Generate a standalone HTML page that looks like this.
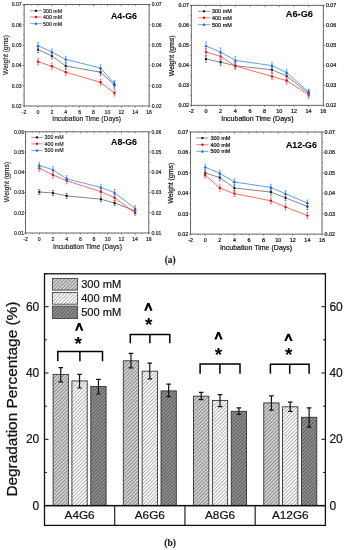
<!DOCTYPE html><html><head><meta charset="utf-8"><style>html,body{margin:0;padding:0;background:#fff;}svg{display:block;will-change:transform;}svg text{font-family:"Liberation Sans", sans-serif;}</style></head><body>
<svg width="345" height="550" viewBox="0 0 345 550">
<rect width="345" height="550" fill="#fff"/>
<defs><filter id="softL" x="0" y="0" width="345" height="268" filterUnits="userSpaceOnUse"><feGaussianBlur stdDeviation="0.35"/></filter><filter id="softR" x="0" y="0" width="345" height="268" filterUnits="userSpaceOnUse"><feGaussianBlur stdDeviation="0.25"/></filter></defs>
<rect width="345" height="268" fill="#fff"/>
<g filter="url(#softL)">
<rect x="24.1" y="4.5" width="125.00" height="101.50" fill="none" stroke="#555" stroke-width="0.9"/>
<line x1="24.10" y1="106.0" x2="24.10" y2="107.6" stroke="#555" stroke-width="0.7"/>
<line x1="24.10" y1="4.5" x2="24.10" y2="6.1" stroke="#555" stroke-width="0.7"/>
<line x1="31.04" y1="106.0" x2="31.04" y2="106.9" stroke="#555" stroke-width="0.7"/>
<line x1="31.04" y1="4.5" x2="31.04" y2="5.4" stroke="#555" stroke-width="0.7"/>
<line x1="37.99" y1="106.0" x2="37.99" y2="107.6" stroke="#555" stroke-width="0.7"/>
<line x1="37.99" y1="4.5" x2="37.99" y2="6.1" stroke="#555" stroke-width="0.7"/>
<line x1="44.93" y1="106.0" x2="44.93" y2="106.9" stroke="#555" stroke-width="0.7"/>
<line x1="44.93" y1="4.5" x2="44.93" y2="5.4" stroke="#555" stroke-width="0.7"/>
<line x1="51.88" y1="106.0" x2="51.88" y2="107.6" stroke="#555" stroke-width="0.7"/>
<line x1="51.88" y1="4.5" x2="51.88" y2="6.1" stroke="#555" stroke-width="0.7"/>
<line x1="58.82" y1="106.0" x2="58.82" y2="106.9" stroke="#555" stroke-width="0.7"/>
<line x1="58.82" y1="4.5" x2="58.82" y2="5.4" stroke="#555" stroke-width="0.7"/>
<line x1="65.77" y1="106.0" x2="65.77" y2="107.6" stroke="#555" stroke-width="0.7"/>
<line x1="65.77" y1="4.5" x2="65.77" y2="6.1" stroke="#555" stroke-width="0.7"/>
<line x1="72.71" y1="106.0" x2="72.71" y2="106.9" stroke="#555" stroke-width="0.7"/>
<line x1="72.71" y1="4.5" x2="72.71" y2="5.4" stroke="#555" stroke-width="0.7"/>
<line x1="79.66" y1="106.0" x2="79.66" y2="107.6" stroke="#555" stroke-width="0.7"/>
<line x1="79.66" y1="4.5" x2="79.66" y2="6.1" stroke="#555" stroke-width="0.7"/>
<line x1="86.60" y1="106.0" x2="86.60" y2="106.9" stroke="#555" stroke-width="0.7"/>
<line x1="86.60" y1="4.5" x2="86.60" y2="5.4" stroke="#555" stroke-width="0.7"/>
<line x1="93.54" y1="106.0" x2="93.54" y2="107.6" stroke="#555" stroke-width="0.7"/>
<line x1="93.54" y1="4.5" x2="93.54" y2="6.1" stroke="#555" stroke-width="0.7"/>
<line x1="100.49" y1="106.0" x2="100.49" y2="106.9" stroke="#555" stroke-width="0.7"/>
<line x1="100.49" y1="4.5" x2="100.49" y2="5.4" stroke="#555" stroke-width="0.7"/>
<line x1="107.43" y1="106.0" x2="107.43" y2="107.6" stroke="#555" stroke-width="0.7"/>
<line x1="107.43" y1="4.5" x2="107.43" y2="6.1" stroke="#555" stroke-width="0.7"/>
<line x1="114.38" y1="106.0" x2="114.38" y2="106.9" stroke="#555" stroke-width="0.7"/>
<line x1="114.38" y1="4.5" x2="114.38" y2="5.4" stroke="#555" stroke-width="0.7"/>
<line x1="121.32" y1="106.0" x2="121.32" y2="107.6" stroke="#555" stroke-width="0.7"/>
<line x1="121.32" y1="4.5" x2="121.32" y2="6.1" stroke="#555" stroke-width="0.7"/>
<line x1="128.27" y1="106.0" x2="128.27" y2="106.9" stroke="#555" stroke-width="0.7"/>
<line x1="128.27" y1="4.5" x2="128.27" y2="5.4" stroke="#555" stroke-width="0.7"/>
<line x1="135.21" y1="106.0" x2="135.21" y2="107.6" stroke="#555" stroke-width="0.7"/>
<line x1="135.21" y1="4.5" x2="135.21" y2="6.1" stroke="#555" stroke-width="0.7"/>
<line x1="142.16" y1="106.0" x2="142.16" y2="106.9" stroke="#555" stroke-width="0.7"/>
<line x1="142.16" y1="4.5" x2="142.16" y2="5.4" stroke="#555" stroke-width="0.7"/>
<line x1="149.10" y1="106.0" x2="149.10" y2="107.6" stroke="#555" stroke-width="0.7"/>
<line x1="149.10" y1="4.5" x2="149.10" y2="6.1" stroke="#555" stroke-width="0.7"/>
<line x1="22.5" y1="4.50" x2="24.1" y2="4.50" stroke="#555" stroke-width="0.7"/>
<line x1="149.1" y1="4.50" x2="150.7" y2="4.50" stroke="#555" stroke-width="0.7"/>
<line x1="23.200000000000003" y1="14.65" x2="24.1" y2="14.65" stroke="#555" stroke-width="0.7"/>
<line x1="149.1" y1="14.65" x2="150.0" y2="14.65" stroke="#555" stroke-width="0.7"/>
<line x1="22.5" y1="24.80" x2="24.1" y2="24.80" stroke="#555" stroke-width="0.7"/>
<line x1="149.1" y1="24.80" x2="150.7" y2="24.80" stroke="#555" stroke-width="0.7"/>
<line x1="23.200000000000003" y1="34.95" x2="24.1" y2="34.95" stroke="#555" stroke-width="0.7"/>
<line x1="149.1" y1="34.95" x2="150.0" y2="34.95" stroke="#555" stroke-width="0.7"/>
<line x1="22.5" y1="45.10" x2="24.1" y2="45.10" stroke="#555" stroke-width="0.7"/>
<line x1="149.1" y1="45.10" x2="150.7" y2="45.10" stroke="#555" stroke-width="0.7"/>
<line x1="23.200000000000003" y1="55.25" x2="24.1" y2="55.25" stroke="#555" stroke-width="0.7"/>
<line x1="149.1" y1="55.25" x2="150.0" y2="55.25" stroke="#555" stroke-width="0.7"/>
<line x1="22.5" y1="65.40" x2="24.1" y2="65.40" stroke="#555" stroke-width="0.7"/>
<line x1="149.1" y1="65.40" x2="150.7" y2="65.40" stroke="#555" stroke-width="0.7"/>
<line x1="23.200000000000003" y1="75.55" x2="24.1" y2="75.55" stroke="#555" stroke-width="0.7"/>
<line x1="149.1" y1="75.55" x2="150.0" y2="75.55" stroke="#555" stroke-width="0.7"/>
<line x1="22.5" y1="85.70" x2="24.1" y2="85.70" stroke="#555" stroke-width="0.7"/>
<line x1="149.1" y1="85.70" x2="150.7" y2="85.70" stroke="#555" stroke-width="0.7"/>
<line x1="23.200000000000003" y1="95.85" x2="24.1" y2="95.85" stroke="#555" stroke-width="0.7"/>
<line x1="149.1" y1="95.85" x2="150.0" y2="95.85" stroke="#555" stroke-width="0.7"/>
<line x1="22.5" y1="106.00" x2="24.1" y2="106.00" stroke="#555" stroke-width="0.7"/>
<line x1="149.1" y1="106.00" x2="150.7" y2="106.00" stroke="#555" stroke-width="0.7"/>
<text x="24.10" y="113.60" text-anchor="middle" font-size="5.20" fill="#1a1a1a" stroke="#1a1a1a" stroke-width="0.15">-2</text>
<text x="37.99" y="113.60" text-anchor="middle" font-size="5.20" fill="#1a1a1a" stroke="#1a1a1a" stroke-width="0.15">0</text>
<text x="51.88" y="113.60" text-anchor="middle" font-size="5.20" fill="#1a1a1a" stroke="#1a1a1a" stroke-width="0.15">2</text>
<text x="65.77" y="113.60" text-anchor="middle" font-size="5.20" fill="#1a1a1a" stroke="#1a1a1a" stroke-width="0.15">4</text>
<text x="79.66" y="113.60" text-anchor="middle" font-size="5.20" fill="#1a1a1a" stroke="#1a1a1a" stroke-width="0.15">6</text>
<text x="93.54" y="113.60" text-anchor="middle" font-size="5.20" fill="#1a1a1a" stroke="#1a1a1a" stroke-width="0.15">8</text>
<text x="107.43" y="113.60" text-anchor="middle" font-size="5.20" fill="#1a1a1a" stroke="#1a1a1a" stroke-width="0.15">10</text>
<text x="121.32" y="113.60" text-anchor="middle" font-size="5.20" fill="#1a1a1a" stroke="#1a1a1a" stroke-width="0.15">12</text>
<text x="135.21" y="113.60" text-anchor="middle" font-size="5.20" fill="#1a1a1a" stroke="#1a1a1a" stroke-width="0.15">14</text>
<text x="149.10" y="113.60" text-anchor="middle" font-size="5.20" fill="#1a1a1a" stroke="#1a1a1a" stroke-width="0.15">16</text>
<text x="21.70" y="6.35" text-anchor="end" font-size="5.10" fill="#1a1a1a" stroke="#1a1a1a" stroke-width="0.15">0.07</text>
<text x="151.70" y="6.35" font-size="5.10" fill="#1a1a1a" stroke="#1a1a1a" stroke-width="0.15">0.07</text>
<text x="21.70" y="26.65" text-anchor="end" font-size="5.10" fill="#1a1a1a" stroke="#1a1a1a" stroke-width="0.15">0.06</text>
<text x="151.70" y="26.65" font-size="5.10" fill="#1a1a1a" stroke="#1a1a1a" stroke-width="0.15">0.06</text>
<text x="21.70" y="46.95" text-anchor="end" font-size="5.10" fill="#1a1a1a" stroke="#1a1a1a" stroke-width="0.15">0.05</text>
<text x="151.70" y="46.95" font-size="5.10" fill="#1a1a1a" stroke="#1a1a1a" stroke-width="0.15">0.05</text>
<text x="21.70" y="67.25" text-anchor="end" font-size="5.10" fill="#1a1a1a" stroke="#1a1a1a" stroke-width="0.15">0.04</text>
<text x="151.70" y="67.25" font-size="5.10" fill="#1a1a1a" stroke="#1a1a1a" stroke-width="0.15">0.04</text>
<text x="21.70" y="87.55" text-anchor="end" font-size="5.10" fill="#1a1a1a" stroke="#1a1a1a" stroke-width="0.15">0.03</text>
<text x="151.70" y="87.55" font-size="5.10" fill="#1a1a1a" stroke="#1a1a1a" stroke-width="0.15">0.03</text>
<text x="21.70" y="107.85" text-anchor="end" font-size="5.10" fill="#1a1a1a" stroke="#1a1a1a" stroke-width="0.15">0.02</text>
<text x="151.70" y="107.85" font-size="5.10" fill="#1a1a1a" stroke="#1a1a1a" stroke-width="0.15">0.02</text>
<text x="52.3" y="121.2" font-size="6.70" fill="#1a1a1a" stroke="#1a1a1a" stroke-width="0.15">Incubation Time (Days)</text>
<text transform="translate(7.5,55.1) rotate(-90)" text-anchor="middle" font-size="6.75" fill="#1a1a1a" stroke="#1a1a1a" stroke-width="0.15">Weight (gms)</text>
<text x="111.0" y="18.8" font-size="8.80" font-weight="bold" fill="#000" stroke="#000" stroke-width="0.075">A4-G6</text>
<line x1="30.0" y1="10.8" x2="41.8" y2="10.8" stroke="#666" stroke-width="0.7"/>
<rect x="34.85" y="9.75" width="2.10" height="2.10" fill="#1a1a1a"/>
<text x="43.10" y="12.70" font-size="5.25" fill="#1a1a1a" stroke="#1a1a1a" stroke-width="0.15">300 mM</text>
<line x1="30.0" y1="17.0" x2="41.8" y2="17.0" stroke="#f44" stroke-width="0.7"/>
<circle cx="35.90" cy="17.00" r="1.20" fill="#e80a0a"/>
<text x="43.10" y="18.90" font-size="5.25" fill="#1a1a1a" stroke="#1a1a1a" stroke-width="0.15">400 mM</text>
<line x1="30.0" y1="23.6" x2="41.8" y2="23.6" stroke="#3a86f0" stroke-width="0.7"/>
<path d="M35.90,22.05 L37.45,24.65 L34.35,24.65Z" fill="#0a5ce8"/>
<text x="43.10" y="25.50" font-size="5.25" fill="#1a1a1a" stroke="#1a1a1a" stroke-width="0.15">500 mM</text>
<polyline points="37.99,49.60 51.88,55.90 65.77,66.00 100.49,72.20 114.38,85.00" fill="none" stroke="#666" stroke-width="0.8"/>
<path d="M37.99,46.50V52.70M36.99,46.50H38.99M36.99,52.70H38.99" stroke="#4a4a4a" stroke-width="0.65" fill="none"/>
<rect x="36.94" y="48.55" width="2.10" height="2.10" fill="#1a1a1a"/>
<path d="M51.88,52.80V59.00M50.88,52.80H52.88M50.88,59.00H52.88" stroke="#4a4a4a" stroke-width="0.65" fill="none"/>
<rect x="50.83" y="54.85" width="2.10" height="2.10" fill="#1a1a1a"/>
<path d="M65.77,62.90V69.10M64.77,62.90H66.77M64.77,69.10H66.77" stroke="#4a4a4a" stroke-width="0.65" fill="none"/>
<rect x="64.72" y="64.95" width="2.10" height="2.10" fill="#1a1a1a"/>
<path d="M100.49,69.10V75.30M99.49,69.10H101.49M99.49,75.30H101.49" stroke="#4a4a4a" stroke-width="0.65" fill="none"/>
<rect x="99.44" y="71.15" width="2.10" height="2.10" fill="#1a1a1a"/>
<path d="M114.38,81.90V88.10M113.38,81.90H115.38M113.38,88.10H115.38" stroke="#4a4a4a" stroke-width="0.65" fill="none"/>
<rect x="113.33" y="83.95" width="2.10" height="2.10" fill="#1a1a1a"/>
<polyline points="37.99,61.70 51.88,66.30 65.77,72.20 100.49,82.30 114.38,93.00" fill="none" stroke="#f44" stroke-width="0.8"/>
<path d="M37.99,58.60V64.80M36.99,58.60H38.99M36.99,64.80H38.99" stroke="#f44" stroke-width="0.65" fill="none"/>
<circle cx="37.99" cy="61.70" r="1.20" fill="#e80a0a"/>
<path d="M51.88,63.20V69.40M50.88,63.20H52.88M50.88,69.40H52.88" stroke="#f44" stroke-width="0.65" fill="none"/>
<circle cx="51.88" cy="66.30" r="1.20" fill="#e80a0a"/>
<path d="M65.77,69.10V75.30M64.77,69.10H66.77M64.77,75.30H66.77" stroke="#f44" stroke-width="0.65" fill="none"/>
<circle cx="65.77" cy="72.20" r="1.20" fill="#e80a0a"/>
<path d="M100.49,79.20V85.40M99.49,79.20H101.49M99.49,85.40H101.49" stroke="#f44" stroke-width="0.65" fill="none"/>
<circle cx="100.49" cy="82.30" r="1.20" fill="#e80a0a"/>
<path d="M114.38,89.90V96.10M113.38,89.90H115.38M113.38,96.10H115.38" stroke="#f44" stroke-width="0.65" fill="none"/>
<circle cx="114.38" cy="93.00" r="1.20" fill="#e80a0a"/>
<polyline points="37.99,45.70 51.88,52.00 65.77,59.40 100.49,68.00 114.38,83.60" fill="none" stroke="#3a86f0" stroke-width="0.8"/>
<path d="M37.99,42.60V48.80M36.99,42.60H38.99M36.99,48.80H38.99" stroke="#3a86f0" stroke-width="0.65" fill="none"/>
<path d="M37.99,44.15 L39.54,46.75 L36.44,46.75Z" fill="#0a5ce8"/>
<path d="M51.88,48.90V55.10M50.88,48.90H52.88M50.88,55.10H52.88" stroke="#3a86f0" stroke-width="0.65" fill="none"/>
<path d="M51.88,50.45 L53.43,53.05 L50.33,53.05Z" fill="#0a5ce8"/>
<path d="M65.77,56.30V62.50M64.77,56.30H66.77M64.77,62.50H66.77" stroke="#3a86f0" stroke-width="0.65" fill="none"/>
<path d="M65.77,57.85 L67.32,60.45 L64.22,60.45Z" fill="#0a5ce8"/>
<path d="M100.49,64.90V71.10M99.49,64.90H101.49M99.49,71.10H101.49" stroke="#3a86f0" stroke-width="0.65" fill="none"/>
<path d="M100.49,66.45 L102.04,69.05 L98.94,69.05Z" fill="#0a5ce8"/>
<path d="M114.38,80.50V86.70M113.38,80.50H115.38M113.38,86.70H115.38" stroke="#3a86f0" stroke-width="0.65" fill="none"/>
<path d="M114.38,82.05 L115.93,84.65 L112.83,84.65Z" fill="#0a5ce8"/>
<rect x="25.6" y="131.8" width="123.20" height="101.20" fill="none" stroke="#555" stroke-width="0.9"/>
<line x1="25.60" y1="233.0" x2="25.60" y2="234.6" stroke="#555" stroke-width="0.7"/>
<line x1="25.60" y1="131.8" x2="25.60" y2="133.4" stroke="#555" stroke-width="0.7"/>
<line x1="32.44" y1="233.0" x2="32.44" y2="233.9" stroke="#555" stroke-width="0.7"/>
<line x1="32.44" y1="131.8" x2="32.44" y2="132.70000000000002" stroke="#555" stroke-width="0.7"/>
<line x1="39.29" y1="233.0" x2="39.29" y2="234.6" stroke="#555" stroke-width="0.7"/>
<line x1="39.29" y1="131.8" x2="39.29" y2="133.4" stroke="#555" stroke-width="0.7"/>
<line x1="46.13" y1="233.0" x2="46.13" y2="233.9" stroke="#555" stroke-width="0.7"/>
<line x1="46.13" y1="131.8" x2="46.13" y2="132.70000000000002" stroke="#555" stroke-width="0.7"/>
<line x1="52.98" y1="233.0" x2="52.98" y2="234.6" stroke="#555" stroke-width="0.7"/>
<line x1="52.98" y1="131.8" x2="52.98" y2="133.4" stroke="#555" stroke-width="0.7"/>
<line x1="59.82" y1="233.0" x2="59.82" y2="233.9" stroke="#555" stroke-width="0.7"/>
<line x1="59.82" y1="131.8" x2="59.82" y2="132.70000000000002" stroke="#555" stroke-width="0.7"/>
<line x1="66.67" y1="233.0" x2="66.67" y2="234.6" stroke="#555" stroke-width="0.7"/>
<line x1="66.67" y1="131.8" x2="66.67" y2="133.4" stroke="#555" stroke-width="0.7"/>
<line x1="73.51" y1="233.0" x2="73.51" y2="233.9" stroke="#555" stroke-width="0.7"/>
<line x1="73.51" y1="131.8" x2="73.51" y2="132.70000000000002" stroke="#555" stroke-width="0.7"/>
<line x1="80.36" y1="233.0" x2="80.36" y2="234.6" stroke="#555" stroke-width="0.7"/>
<line x1="80.36" y1="131.8" x2="80.36" y2="133.4" stroke="#555" stroke-width="0.7"/>
<line x1="87.20" y1="233.0" x2="87.20" y2="233.9" stroke="#555" stroke-width="0.7"/>
<line x1="87.20" y1="131.8" x2="87.20" y2="132.70000000000002" stroke="#555" stroke-width="0.7"/>
<line x1="94.04" y1="233.0" x2="94.04" y2="234.6" stroke="#555" stroke-width="0.7"/>
<line x1="94.04" y1="131.8" x2="94.04" y2="133.4" stroke="#555" stroke-width="0.7"/>
<line x1="100.89" y1="233.0" x2="100.89" y2="233.9" stroke="#555" stroke-width="0.7"/>
<line x1="100.89" y1="131.8" x2="100.89" y2="132.70000000000002" stroke="#555" stroke-width="0.7"/>
<line x1="107.73" y1="233.0" x2="107.73" y2="234.6" stroke="#555" stroke-width="0.7"/>
<line x1="107.73" y1="131.8" x2="107.73" y2="133.4" stroke="#555" stroke-width="0.7"/>
<line x1="114.58" y1="233.0" x2="114.58" y2="233.9" stroke="#555" stroke-width="0.7"/>
<line x1="114.58" y1="131.8" x2="114.58" y2="132.70000000000002" stroke="#555" stroke-width="0.7"/>
<line x1="121.42" y1="233.0" x2="121.42" y2="234.6" stroke="#555" stroke-width="0.7"/>
<line x1="121.42" y1="131.8" x2="121.42" y2="133.4" stroke="#555" stroke-width="0.7"/>
<line x1="128.27" y1="233.0" x2="128.27" y2="233.9" stroke="#555" stroke-width="0.7"/>
<line x1="128.27" y1="131.8" x2="128.27" y2="132.70000000000002" stroke="#555" stroke-width="0.7"/>
<line x1="135.11" y1="233.0" x2="135.11" y2="234.6" stroke="#555" stroke-width="0.7"/>
<line x1="135.11" y1="131.8" x2="135.11" y2="133.4" stroke="#555" stroke-width="0.7"/>
<line x1="141.96" y1="233.0" x2="141.96" y2="233.9" stroke="#555" stroke-width="0.7"/>
<line x1="141.96" y1="131.8" x2="141.96" y2="132.70000000000002" stroke="#555" stroke-width="0.7"/>
<line x1="148.80" y1="233.0" x2="148.80" y2="234.6" stroke="#555" stroke-width="0.7"/>
<line x1="148.80" y1="131.8" x2="148.80" y2="133.4" stroke="#555" stroke-width="0.7"/>
<line x1="24.0" y1="131.80" x2="25.6" y2="131.80" stroke="#555" stroke-width="0.7"/>
<line x1="148.8" y1="131.80" x2="150.4" y2="131.80" stroke="#555" stroke-width="0.7"/>
<line x1="24.700000000000003" y1="141.92" x2="25.6" y2="141.92" stroke="#555" stroke-width="0.7"/>
<line x1="148.8" y1="141.92" x2="149.70000000000002" y2="141.92" stroke="#555" stroke-width="0.7"/>
<line x1="24.0" y1="152.04" x2="25.6" y2="152.04" stroke="#555" stroke-width="0.7"/>
<line x1="148.8" y1="152.04" x2="150.4" y2="152.04" stroke="#555" stroke-width="0.7"/>
<line x1="24.700000000000003" y1="162.16" x2="25.6" y2="162.16" stroke="#555" stroke-width="0.7"/>
<line x1="148.8" y1="162.16" x2="149.70000000000002" y2="162.16" stroke="#555" stroke-width="0.7"/>
<line x1="24.0" y1="172.28" x2="25.6" y2="172.28" stroke="#555" stroke-width="0.7"/>
<line x1="148.8" y1="172.28" x2="150.4" y2="172.28" stroke="#555" stroke-width="0.7"/>
<line x1="24.700000000000003" y1="182.40" x2="25.6" y2="182.40" stroke="#555" stroke-width="0.7"/>
<line x1="148.8" y1="182.40" x2="149.70000000000002" y2="182.40" stroke="#555" stroke-width="0.7"/>
<line x1="24.0" y1="192.52" x2="25.6" y2="192.52" stroke="#555" stroke-width="0.7"/>
<line x1="148.8" y1="192.52" x2="150.4" y2="192.52" stroke="#555" stroke-width="0.7"/>
<line x1="24.700000000000003" y1="202.64" x2="25.6" y2="202.64" stroke="#555" stroke-width="0.7"/>
<line x1="148.8" y1="202.64" x2="149.70000000000002" y2="202.64" stroke="#555" stroke-width="0.7"/>
<line x1="24.0" y1="212.76" x2="25.6" y2="212.76" stroke="#555" stroke-width="0.7"/>
<line x1="148.8" y1="212.76" x2="150.4" y2="212.76" stroke="#555" stroke-width="0.7"/>
<line x1="24.700000000000003" y1="222.88" x2="25.6" y2="222.88" stroke="#555" stroke-width="0.7"/>
<line x1="148.8" y1="222.88" x2="149.70000000000002" y2="222.88" stroke="#555" stroke-width="0.7"/>
<line x1="24.0" y1="233.00" x2="25.6" y2="233.00" stroke="#555" stroke-width="0.7"/>
<line x1="148.8" y1="233.00" x2="150.4" y2="233.00" stroke="#555" stroke-width="0.7"/>
<text x="25.60" y="240.60" text-anchor="middle" font-size="5.20" fill="#1a1a1a" stroke="#1a1a1a" stroke-width="0.15">-2</text>
<text x="39.29" y="240.60" text-anchor="middle" font-size="5.20" fill="#1a1a1a" stroke="#1a1a1a" stroke-width="0.15">0</text>
<text x="52.98" y="240.60" text-anchor="middle" font-size="5.20" fill="#1a1a1a" stroke="#1a1a1a" stroke-width="0.15">2</text>
<text x="66.67" y="240.60" text-anchor="middle" font-size="5.20" fill="#1a1a1a" stroke="#1a1a1a" stroke-width="0.15">4</text>
<text x="80.36" y="240.60" text-anchor="middle" font-size="5.20" fill="#1a1a1a" stroke="#1a1a1a" stroke-width="0.15">6</text>
<text x="94.04" y="240.60" text-anchor="middle" font-size="5.20" fill="#1a1a1a" stroke="#1a1a1a" stroke-width="0.15">8</text>
<text x="107.73" y="240.60" text-anchor="middle" font-size="5.20" fill="#1a1a1a" stroke="#1a1a1a" stroke-width="0.15">10</text>
<text x="121.42" y="240.60" text-anchor="middle" font-size="5.20" fill="#1a1a1a" stroke="#1a1a1a" stroke-width="0.15">12</text>
<text x="135.11" y="240.60" text-anchor="middle" font-size="5.20" fill="#1a1a1a" stroke="#1a1a1a" stroke-width="0.15">14</text>
<text x="148.80" y="240.60" text-anchor="middle" font-size="5.20" fill="#1a1a1a" stroke="#1a1a1a" stroke-width="0.15">16</text>
<text x="24.00" y="133.65" text-anchor="end" font-size="5.10" fill="#1a1a1a" stroke="#1a1a1a" stroke-width="0.15">0.06</text>
<text x="151.40" y="133.65" font-size="5.10" fill="#1a1a1a" stroke="#1a1a1a" stroke-width="0.15">0.06</text>
<text x="24.00" y="153.89" text-anchor="end" font-size="5.10" fill="#1a1a1a" stroke="#1a1a1a" stroke-width="0.15">0.05</text>
<text x="151.40" y="153.89" font-size="5.10" fill="#1a1a1a" stroke="#1a1a1a" stroke-width="0.15">0.05</text>
<text x="24.00" y="174.13" text-anchor="end" font-size="5.10" fill="#1a1a1a" stroke="#1a1a1a" stroke-width="0.15">0.04</text>
<text x="151.40" y="174.13" font-size="5.10" fill="#1a1a1a" stroke="#1a1a1a" stroke-width="0.15">0.04</text>
<text x="24.00" y="194.37" text-anchor="end" font-size="5.10" fill="#1a1a1a" stroke="#1a1a1a" stroke-width="0.15">0.03</text>
<text x="151.40" y="194.37" font-size="5.10" fill="#1a1a1a" stroke="#1a1a1a" stroke-width="0.15">0.03</text>
<text x="24.00" y="214.61" text-anchor="end" font-size="5.10" fill="#1a1a1a" stroke="#1a1a1a" stroke-width="0.15">0.02</text>
<text x="151.40" y="214.61" font-size="5.10" fill="#1a1a1a" stroke="#1a1a1a" stroke-width="0.15">0.02</text>
<text x="24.00" y="234.85" text-anchor="end" font-size="5.10" fill="#1a1a1a" stroke="#1a1a1a" stroke-width="0.15">0.01</text>
<text x="151.40" y="234.85" font-size="5.10" fill="#1a1a1a" stroke="#1a1a1a" stroke-width="0.15">0.01</text>
<text x="53.1" y="248.9" font-size="6.70" fill="#1a1a1a" stroke="#1a1a1a" stroke-width="0.15">Incubation Time (Days)</text>
<text transform="translate(9.0,182.0) rotate(-90)" text-anchor="middle" font-size="6.81" fill="#1a1a1a" stroke="#1a1a1a" stroke-width="0.15">Weight (gms)</text>
<text x="111.1" y="145.4" font-size="8.80" font-weight="bold" fill="#000" stroke="#000" stroke-width="0.075">A8-G6</text>
<line x1="31.3" y1="137.4" x2="42.6" y2="137.4" stroke="#666" stroke-width="0.7"/>
<rect x="35.90" y="136.35" width="2.10" height="2.10" fill="#1a1a1a"/>
<text x="44.60" y="139.30" font-size="5.25" fill="#1a1a1a" stroke="#1a1a1a" stroke-width="0.15">300 mM</text>
<line x1="31.3" y1="143.8" x2="42.6" y2="143.8" stroke="#f44" stroke-width="0.7"/>
<circle cx="36.95" cy="143.80" r="1.20" fill="#e80a0a"/>
<text x="44.60" y="145.70" font-size="5.25" fill="#1a1a1a" stroke="#1a1a1a" stroke-width="0.15">400 mM</text>
<line x1="31.3" y1="150.4" x2="42.6" y2="150.4" stroke="#3a86f0" stroke-width="0.7"/>
<path d="M36.95,148.85 L38.50,151.45 L35.40,151.45Z" fill="#0a5ce8"/>
<text x="44.60" y="152.30" font-size="5.25" fill="#1a1a1a" stroke="#1a1a1a" stroke-width="0.15">500 mM</text>
<polyline points="39.29,192.00 52.98,193.00 66.67,195.90 100.89,199.20 114.58,203.00 135.11,210.90" fill="none" stroke="#666" stroke-width="0.8"/>
<path d="M39.29,189.50V194.50M38.29,189.50H40.29M38.29,194.50H40.29" stroke="#4a4a4a" stroke-width="0.65" fill="none"/>
<rect x="38.24" y="190.95" width="2.10" height="2.10" fill="#1a1a1a"/>
<path d="M52.98,190.50V195.50M51.98,190.50H53.98M51.98,195.50H53.98" stroke="#4a4a4a" stroke-width="0.65" fill="none"/>
<rect x="51.93" y="191.95" width="2.10" height="2.10" fill="#1a1a1a"/>
<path d="M66.67,193.40V198.40M65.67,193.40H67.67M65.67,198.40H67.67" stroke="#4a4a4a" stroke-width="0.65" fill="none"/>
<rect x="65.62" y="194.85" width="2.10" height="2.10" fill="#1a1a1a"/>
<path d="M100.89,196.70V201.70M99.89,196.70H101.89M99.89,201.70H101.89" stroke="#4a4a4a" stroke-width="0.65" fill="none"/>
<rect x="99.84" y="198.15" width="2.10" height="2.10" fill="#1a1a1a"/>
<path d="M114.58,200.50V205.50M113.58,200.50H115.58M113.58,205.50H115.58" stroke="#4a4a4a" stroke-width="0.65" fill="none"/>
<rect x="113.53" y="201.95" width="2.10" height="2.10" fill="#1a1a1a"/>
<path d="M135.11,208.40V213.40M134.11,208.40H136.11M134.11,213.40H136.11" stroke="#4a4a4a" stroke-width="0.65" fill="none"/>
<rect x="134.06" y="209.85" width="2.10" height="2.10" fill="#1a1a1a"/>
<polyline points="39.29,168.30 52.98,175.00 66.67,180.80 100.89,191.70 114.58,197.80 135.11,213.10" fill="none" stroke="#f44" stroke-width="0.8"/>
<path d="M39.29,165.20V171.40M38.29,165.20H40.29M38.29,171.40H40.29" stroke="#f44" stroke-width="0.65" fill="none"/>
<circle cx="39.29" cy="168.30" r="1.20" fill="#e80a0a"/>
<path d="M52.98,171.90V178.10M51.98,171.90H53.98M51.98,178.10H53.98" stroke="#f44" stroke-width="0.65" fill="none"/>
<circle cx="52.98" cy="175.00" r="1.20" fill="#e80a0a"/>
<path d="M66.67,177.70V183.90M65.67,177.70H67.67M65.67,183.90H67.67" stroke="#f44" stroke-width="0.65" fill="none"/>
<circle cx="66.67" cy="180.80" r="1.20" fill="#e80a0a"/>
<path d="M100.89,188.60V194.80M99.89,188.60H101.89M99.89,194.80H101.89" stroke="#f44" stroke-width="0.65" fill="none"/>
<circle cx="100.89" cy="191.70" r="1.20" fill="#e80a0a"/>
<path d="M114.58,194.70V200.90M113.58,194.70H115.58M113.58,200.90H115.58" stroke="#f44" stroke-width="0.65" fill="none"/>
<circle cx="114.58" cy="197.80" r="1.20" fill="#e80a0a"/>
<path d="M135.11,210.90V215.30M134.11,210.90H136.11M134.11,215.30H136.11" stroke="#f44" stroke-width="0.65" fill="none"/>
<circle cx="135.11" cy="213.10" r="1.20" fill="#e80a0a"/>
<polyline points="39.29,165.40 52.98,169.80 66.67,178.90 100.89,187.40 114.58,192.60 135.11,208.60" fill="none" stroke="#3a86f0" stroke-width="0.8"/>
<path d="M39.29,162.30V168.50M38.29,162.30H40.29M38.29,168.50H40.29" stroke="#3a86f0" stroke-width="0.65" fill="none"/>
<path d="M39.29,163.85 L40.84,166.45 L37.74,166.45Z" fill="#0a5ce8"/>
<path d="M52.98,166.70V172.90M51.98,166.70H53.98M51.98,172.90H53.98" stroke="#3a86f0" stroke-width="0.65" fill="none"/>
<path d="M52.98,168.25 L54.53,170.85 L51.43,170.85Z" fill="#0a5ce8"/>
<path d="M66.67,175.80V182.00M65.67,175.80H67.67M65.67,182.00H67.67" stroke="#3a86f0" stroke-width="0.65" fill="none"/>
<path d="M66.67,177.35 L68.22,179.95 L65.12,179.95Z" fill="#0a5ce8"/>
<path d="M100.89,184.30V190.50M99.89,184.30H101.89M99.89,190.50H101.89" stroke="#3a86f0" stroke-width="0.65" fill="none"/>
<path d="M100.89,185.85 L102.44,188.45 L99.34,188.45Z" fill="#0a5ce8"/>
<path d="M114.58,189.50V195.70M113.58,189.50H115.58M113.58,195.70H115.58" stroke="#3a86f0" stroke-width="0.65" fill="none"/>
<path d="M114.58,191.05 L116.13,193.65 L113.03,193.65Z" fill="#0a5ce8"/>
<path d="M135.11,205.50V211.70M134.11,205.50H136.11M134.11,211.70H136.11" stroke="#3a86f0" stroke-width="0.65" fill="none"/>
<path d="M135.11,207.05 L136.66,209.65 L133.56,209.65Z" fill="#0a5ce8"/>
</g>
<g filter="url(#softR)">
<rect x="191.3" y="5.3" width="132.00" height="100.00" fill="none" stroke="#555" stroke-width="0.9"/>
<line x1="191.30" y1="105.3" x2="191.30" y2="106.89999999999999" stroke="#555" stroke-width="0.7"/>
<line x1="191.30" y1="5.3" x2="191.30" y2="6.9" stroke="#555" stroke-width="0.7"/>
<line x1="198.63" y1="105.3" x2="198.63" y2="106.2" stroke="#555" stroke-width="0.7"/>
<line x1="198.63" y1="5.3" x2="198.63" y2="6.2" stroke="#555" stroke-width="0.7"/>
<line x1="205.97" y1="105.3" x2="205.97" y2="106.89999999999999" stroke="#555" stroke-width="0.7"/>
<line x1="205.97" y1="5.3" x2="205.97" y2="6.9" stroke="#555" stroke-width="0.7"/>
<line x1="213.30" y1="105.3" x2="213.30" y2="106.2" stroke="#555" stroke-width="0.7"/>
<line x1="213.30" y1="5.3" x2="213.30" y2="6.2" stroke="#555" stroke-width="0.7"/>
<line x1="220.63" y1="105.3" x2="220.63" y2="106.89999999999999" stroke="#555" stroke-width="0.7"/>
<line x1="220.63" y1="5.3" x2="220.63" y2="6.9" stroke="#555" stroke-width="0.7"/>
<line x1="227.97" y1="105.3" x2="227.97" y2="106.2" stroke="#555" stroke-width="0.7"/>
<line x1="227.97" y1="5.3" x2="227.97" y2="6.2" stroke="#555" stroke-width="0.7"/>
<line x1="235.30" y1="105.3" x2="235.30" y2="106.89999999999999" stroke="#555" stroke-width="0.7"/>
<line x1="235.30" y1="5.3" x2="235.30" y2="6.9" stroke="#555" stroke-width="0.7"/>
<line x1="242.63" y1="105.3" x2="242.63" y2="106.2" stroke="#555" stroke-width="0.7"/>
<line x1="242.63" y1="5.3" x2="242.63" y2="6.2" stroke="#555" stroke-width="0.7"/>
<line x1="249.97" y1="105.3" x2="249.97" y2="106.89999999999999" stroke="#555" stroke-width="0.7"/>
<line x1="249.97" y1="5.3" x2="249.97" y2="6.9" stroke="#555" stroke-width="0.7"/>
<line x1="257.30" y1="105.3" x2="257.30" y2="106.2" stroke="#555" stroke-width="0.7"/>
<line x1="257.30" y1="5.3" x2="257.30" y2="6.2" stroke="#555" stroke-width="0.7"/>
<line x1="264.63" y1="105.3" x2="264.63" y2="106.89999999999999" stroke="#555" stroke-width="0.7"/>
<line x1="264.63" y1="5.3" x2="264.63" y2="6.9" stroke="#555" stroke-width="0.7"/>
<line x1="271.97" y1="105.3" x2="271.97" y2="106.2" stroke="#555" stroke-width="0.7"/>
<line x1="271.97" y1="5.3" x2="271.97" y2="6.2" stroke="#555" stroke-width="0.7"/>
<line x1="279.30" y1="105.3" x2="279.30" y2="106.89999999999999" stroke="#555" stroke-width="0.7"/>
<line x1="279.30" y1="5.3" x2="279.30" y2="6.9" stroke="#555" stroke-width="0.7"/>
<line x1="286.63" y1="105.3" x2="286.63" y2="106.2" stroke="#555" stroke-width="0.7"/>
<line x1="286.63" y1="5.3" x2="286.63" y2="6.2" stroke="#555" stroke-width="0.7"/>
<line x1="293.97" y1="105.3" x2="293.97" y2="106.89999999999999" stroke="#555" stroke-width="0.7"/>
<line x1="293.97" y1="5.3" x2="293.97" y2="6.9" stroke="#555" stroke-width="0.7"/>
<line x1="301.30" y1="105.3" x2="301.30" y2="106.2" stroke="#555" stroke-width="0.7"/>
<line x1="301.30" y1="5.3" x2="301.30" y2="6.2" stroke="#555" stroke-width="0.7"/>
<line x1="308.63" y1="105.3" x2="308.63" y2="106.89999999999999" stroke="#555" stroke-width="0.7"/>
<line x1="308.63" y1="5.3" x2="308.63" y2="6.9" stroke="#555" stroke-width="0.7"/>
<line x1="315.97" y1="105.3" x2="315.97" y2="106.2" stroke="#555" stroke-width="0.7"/>
<line x1="315.97" y1="5.3" x2="315.97" y2="6.2" stroke="#555" stroke-width="0.7"/>
<line x1="323.30" y1="105.3" x2="323.30" y2="106.89999999999999" stroke="#555" stroke-width="0.7"/>
<line x1="323.30" y1="5.3" x2="323.30" y2="6.9" stroke="#555" stroke-width="0.7"/>
<line x1="189.70000000000002" y1="5.30" x2="191.3" y2="5.30" stroke="#555" stroke-width="0.7"/>
<line x1="323.3" y1="5.30" x2="324.90000000000003" y2="5.30" stroke="#555" stroke-width="0.7"/>
<line x1="190.4" y1="15.30" x2="191.3" y2="15.30" stroke="#555" stroke-width="0.7"/>
<line x1="323.3" y1="15.30" x2="324.2" y2="15.30" stroke="#555" stroke-width="0.7"/>
<line x1="189.70000000000002" y1="25.30" x2="191.3" y2="25.30" stroke="#555" stroke-width="0.7"/>
<line x1="323.3" y1="25.30" x2="324.90000000000003" y2="25.30" stroke="#555" stroke-width="0.7"/>
<line x1="190.4" y1="35.30" x2="191.3" y2="35.30" stroke="#555" stroke-width="0.7"/>
<line x1="323.3" y1="35.30" x2="324.2" y2="35.30" stroke="#555" stroke-width="0.7"/>
<line x1="189.70000000000002" y1="45.30" x2="191.3" y2="45.30" stroke="#555" stroke-width="0.7"/>
<line x1="323.3" y1="45.30" x2="324.90000000000003" y2="45.30" stroke="#555" stroke-width="0.7"/>
<line x1="190.4" y1="55.30" x2="191.3" y2="55.30" stroke="#555" stroke-width="0.7"/>
<line x1="323.3" y1="55.30" x2="324.2" y2="55.30" stroke="#555" stroke-width="0.7"/>
<line x1="189.70000000000002" y1="65.30" x2="191.3" y2="65.30" stroke="#555" stroke-width="0.7"/>
<line x1="323.3" y1="65.30" x2="324.90000000000003" y2="65.30" stroke="#555" stroke-width="0.7"/>
<line x1="190.4" y1="75.30" x2="191.3" y2="75.30" stroke="#555" stroke-width="0.7"/>
<line x1="323.3" y1="75.30" x2="324.2" y2="75.30" stroke="#555" stroke-width="0.7"/>
<line x1="189.70000000000002" y1="85.30" x2="191.3" y2="85.30" stroke="#555" stroke-width="0.7"/>
<line x1="323.3" y1="85.30" x2="324.90000000000003" y2="85.30" stroke="#555" stroke-width="0.7"/>
<line x1="190.4" y1="95.30" x2="191.3" y2="95.30" stroke="#555" stroke-width="0.7"/>
<line x1="323.3" y1="95.30" x2="324.2" y2="95.30" stroke="#555" stroke-width="0.7"/>
<line x1="189.70000000000002" y1="105.30" x2="191.3" y2="105.30" stroke="#555" stroke-width="0.7"/>
<line x1="323.3" y1="105.30" x2="324.90000000000003" y2="105.30" stroke="#555" stroke-width="0.7"/>
<text x="191.30" y="112.90" text-anchor="middle" font-size="5.46" fill="#111" stroke="#111" stroke-width="0.2">-2</text>
<text x="205.97" y="112.90" text-anchor="middle" font-size="5.46" fill="#111" stroke="#111" stroke-width="0.2">0</text>
<text x="220.63" y="112.90" text-anchor="middle" font-size="5.46" fill="#111" stroke="#111" stroke-width="0.2">2</text>
<text x="235.30" y="112.90" text-anchor="middle" font-size="5.46" fill="#111" stroke="#111" stroke-width="0.2">4</text>
<text x="249.97" y="112.90" text-anchor="middle" font-size="5.46" fill="#111" stroke="#111" stroke-width="0.2">6</text>
<text x="264.63" y="112.90" text-anchor="middle" font-size="5.46" fill="#111" stroke="#111" stroke-width="0.2">8</text>
<text x="279.30" y="112.90" text-anchor="middle" font-size="5.46" fill="#111" stroke="#111" stroke-width="0.2">10</text>
<text x="293.97" y="112.90" text-anchor="middle" font-size="5.46" fill="#111" stroke="#111" stroke-width="0.2">12</text>
<text x="308.63" y="112.90" text-anchor="middle" font-size="5.46" fill="#111" stroke="#111" stroke-width="0.2">14</text>
<text x="323.30" y="112.90" text-anchor="middle" font-size="5.46" fill="#111" stroke="#111" stroke-width="0.2">16</text>
<text x="188.90" y="7.15" text-anchor="end" font-size="5.35" fill="#111" stroke="#111" stroke-width="0.2">0.07</text>
<text x="325.90" y="7.15" font-size="5.35" fill="#111" stroke="#111" stroke-width="0.2">0.07</text>
<text x="188.90" y="27.15" text-anchor="end" font-size="5.35" fill="#111" stroke="#111" stroke-width="0.2">0.06</text>
<text x="325.90" y="27.15" font-size="5.35" fill="#111" stroke="#111" stroke-width="0.2">0.06</text>
<text x="188.90" y="47.15" text-anchor="end" font-size="5.35" fill="#111" stroke="#111" stroke-width="0.2">0.05</text>
<text x="325.90" y="47.15" font-size="5.35" fill="#111" stroke="#111" stroke-width="0.2">0.05</text>
<text x="188.90" y="67.15" text-anchor="end" font-size="5.35" fill="#111" stroke="#111" stroke-width="0.2">0.04</text>
<text x="325.90" y="67.15" font-size="5.35" fill="#111" stroke="#111" stroke-width="0.2">0.04</text>
<text x="188.90" y="87.15" text-anchor="end" font-size="5.35" fill="#111" stroke="#111" stroke-width="0.2">0.03</text>
<text x="325.90" y="87.15" font-size="5.35" fill="#111" stroke="#111" stroke-width="0.2">0.03</text>
<text x="188.90" y="107.15" text-anchor="end" font-size="5.35" fill="#111" stroke="#111" stroke-width="0.2">0.02</text>
<text x="325.90" y="107.15" font-size="5.35" fill="#111" stroke="#111" stroke-width="0.2">0.02</text>
<text x="221.2" y="120.5" font-size="7.04" fill="#111" stroke="#111" stroke-width="0.2">Incubation Time (Days)</text>
<text transform="translate(173.9,55.8) rotate(-90)" text-anchor="middle" font-size="6.88" fill="#111" stroke="#111" stroke-width="0.2">Weight (gms)</text>
<text x="285.8" y="17.2" font-size="9.24" font-weight="bold" fill="#000" stroke="#000" stroke-width="0.1">A6-G6</text>
<line x1="198.0" y1="11.3" x2="210.0" y2="11.3" stroke="#666" stroke-width="0.7"/>
<rect x="202.95" y="10.25" width="2.10" height="2.10" fill="#1a1a1a"/>
<text x="212.00" y="13.20" font-size="5.51" fill="#111" stroke="#111" stroke-width="0.2">300 mM</text>
<line x1="198.0" y1="17.8" x2="210.0" y2="17.8" stroke="#f44" stroke-width="0.7"/>
<circle cx="204.00" cy="17.80" r="1.20" fill="#e80a0a"/>
<text x="212.00" y="19.70" font-size="5.51" fill="#111" stroke="#111" stroke-width="0.2">400 mM</text>
<line x1="198.0" y1="24.6" x2="210.0" y2="24.6" stroke="#3a86f0" stroke-width="0.7"/>
<path d="M204.00,23.05 L205.55,25.65 L202.45,25.65Z" fill="#0a5ce8"/>
<text x="212.00" y="26.50" font-size="5.51" fill="#111" stroke="#111" stroke-width="0.2">500 mM</text>
<polyline points="205.97,59.00 220.63,62.20 235.30,65.70 271.97,69.80 286.63,76.00 308.63,93.30" fill="none" stroke="#666" stroke-width="0.8"/>
<path d="M205.97,55.90V62.10M204.97,55.90H206.97M204.97,62.10H206.97" stroke="#4a4a4a" stroke-width="0.65" fill="none"/>
<rect x="204.92" y="57.95" width="2.10" height="2.10" fill="#1a1a1a"/>
<path d="M220.63,59.10V65.30M219.63,59.10H221.63M219.63,65.30H221.63" stroke="#4a4a4a" stroke-width="0.65" fill="none"/>
<rect x="219.58" y="61.15" width="2.10" height="2.10" fill="#1a1a1a"/>
<path d="M235.30,62.60V68.80M234.30,62.60H236.30M234.30,68.80H236.30" stroke="#4a4a4a" stroke-width="0.65" fill="none"/>
<rect x="234.25" y="64.65" width="2.10" height="2.10" fill="#1a1a1a"/>
<path d="M271.97,66.70V72.90M270.97,66.70H272.97M270.97,72.90H272.97" stroke="#4a4a4a" stroke-width="0.65" fill="none"/>
<rect x="270.92" y="68.75" width="2.10" height="2.10" fill="#1a1a1a"/>
<path d="M286.63,72.90V79.10M285.63,72.90H287.63M285.63,79.10H287.63" stroke="#4a4a4a" stroke-width="0.65" fill="none"/>
<rect x="285.58" y="74.95" width="2.10" height="2.10" fill="#1a1a1a"/>
<path d="M308.63,90.20V96.40M307.63,90.20H309.63M307.63,96.40H309.63" stroke="#4a4a4a" stroke-width="0.65" fill="none"/>
<rect x="307.58" y="92.25" width="2.10" height="2.10" fill="#1a1a1a"/>
<polyline points="205.97,52.10 220.63,56.40 235.30,66.00 271.97,76.40 286.63,80.70 308.63,94.80" fill="none" stroke="#f44" stroke-width="0.8"/>
<path d="M205.97,48.70V55.50M204.97,48.70H206.97M204.97,55.50H206.97" stroke="#f44" stroke-width="0.65" fill="none"/>
<circle cx="205.97" cy="52.10" r="1.20" fill="#e80a0a"/>
<path d="M220.63,53.10V59.70M219.63,53.10H221.63M219.63,59.70H221.63" stroke="#f44" stroke-width="0.65" fill="none"/>
<circle cx="220.63" cy="56.40" r="1.20" fill="#e80a0a"/>
<path d="M235.30,62.70V69.30M234.30,62.70H236.30M234.30,69.30H236.30" stroke="#f44" stroke-width="0.65" fill="none"/>
<circle cx="235.30" cy="66.00" r="1.20" fill="#e80a0a"/>
<path d="M271.97,73.40V79.40M270.97,73.40H272.97M270.97,79.40H272.97" stroke="#f44" stroke-width="0.65" fill="none"/>
<circle cx="271.97" cy="76.40" r="1.20" fill="#e80a0a"/>
<path d="M286.63,77.20V84.20M285.63,77.20H287.63M285.63,84.20H287.63" stroke="#f44" stroke-width="0.65" fill="none"/>
<circle cx="286.63" cy="80.70" r="1.20" fill="#e80a0a"/>
<path d="M308.63,91.20V98.40M307.63,91.20H309.63M307.63,98.40H309.63" stroke="#f44" stroke-width="0.65" fill="none"/>
<circle cx="308.63" cy="94.80" r="1.20" fill="#e80a0a"/>
<polyline points="205.97,46.00 220.63,52.10 235.30,60.40 271.97,65.60 286.63,72.60 308.63,91.80" fill="none" stroke="#3a86f0" stroke-width="0.8"/>
<path d="M205.97,42.00V50.00M204.97,42.00H206.97M204.97,50.00H206.97" stroke="#3a86f0" stroke-width="0.65" fill="none"/>
<path d="M205.97,44.45 L207.52,47.05 L204.42,47.05Z" fill="#0a5ce8"/>
<path d="M220.63,47.90V56.30M219.63,47.90H221.63M219.63,56.30H221.63" stroke="#3a86f0" stroke-width="0.65" fill="none"/>
<path d="M220.63,50.55 L222.18,53.15 L219.08,53.15Z" fill="#0a5ce8"/>
<path d="M235.30,56.40V64.40M234.30,56.40H236.30M234.30,64.40H236.30" stroke="#3a86f0" stroke-width="0.65" fill="none"/>
<path d="M235.30,58.85 L236.85,61.45 L233.75,61.45Z" fill="#0a5ce8"/>
<path d="M271.97,62.30V68.90M270.97,62.30H272.97M270.97,68.90H272.97" stroke="#3a86f0" stroke-width="0.65" fill="none"/>
<path d="M271.97,64.05 L273.52,66.65 L270.42,66.65Z" fill="#0a5ce8"/>
<path d="M286.63,69.30V75.90M285.63,69.30H287.63M285.63,75.90H287.63" stroke="#3a86f0" stroke-width="0.65" fill="none"/>
<path d="M286.63,71.05 L288.18,73.65 L285.08,73.65Z" fill="#0a5ce8"/>
<path d="M308.63,89.20V94.40M307.63,89.20H309.63M307.63,94.40H309.63" stroke="#3a86f0" stroke-width="0.65" fill="none"/>
<path d="M308.63,90.25 L310.18,92.85 L307.08,92.85Z" fill="#0a5ce8"/>
<rect x="190.6" y="132.0" width="131.40" height="102.10" fill="none" stroke="#555" stroke-width="0.9"/>
<line x1="190.60" y1="234.1" x2="190.60" y2="235.7" stroke="#555" stroke-width="0.7"/>
<line x1="190.60" y1="132.0" x2="190.60" y2="133.6" stroke="#555" stroke-width="0.7"/>
<line x1="197.90" y1="234.1" x2="197.90" y2="235.0" stroke="#555" stroke-width="0.7"/>
<line x1="197.90" y1="132.0" x2="197.90" y2="132.9" stroke="#555" stroke-width="0.7"/>
<line x1="205.20" y1="234.1" x2="205.20" y2="235.7" stroke="#555" stroke-width="0.7"/>
<line x1="205.20" y1="132.0" x2="205.20" y2="133.6" stroke="#555" stroke-width="0.7"/>
<line x1="212.50" y1="234.1" x2="212.50" y2="235.0" stroke="#555" stroke-width="0.7"/>
<line x1="212.50" y1="132.0" x2="212.50" y2="132.9" stroke="#555" stroke-width="0.7"/>
<line x1="219.80" y1="234.1" x2="219.80" y2="235.7" stroke="#555" stroke-width="0.7"/>
<line x1="219.80" y1="132.0" x2="219.80" y2="133.6" stroke="#555" stroke-width="0.7"/>
<line x1="227.10" y1="234.1" x2="227.10" y2="235.0" stroke="#555" stroke-width="0.7"/>
<line x1="227.10" y1="132.0" x2="227.10" y2="132.9" stroke="#555" stroke-width="0.7"/>
<line x1="234.40" y1="234.1" x2="234.40" y2="235.7" stroke="#555" stroke-width="0.7"/>
<line x1="234.40" y1="132.0" x2="234.40" y2="133.6" stroke="#555" stroke-width="0.7"/>
<line x1="241.70" y1="234.1" x2="241.70" y2="235.0" stroke="#555" stroke-width="0.7"/>
<line x1="241.70" y1="132.0" x2="241.70" y2="132.9" stroke="#555" stroke-width="0.7"/>
<line x1="249.00" y1="234.1" x2="249.00" y2="235.7" stroke="#555" stroke-width="0.7"/>
<line x1="249.00" y1="132.0" x2="249.00" y2="133.6" stroke="#555" stroke-width="0.7"/>
<line x1="256.30" y1="234.1" x2="256.30" y2="235.0" stroke="#555" stroke-width="0.7"/>
<line x1="256.30" y1="132.0" x2="256.30" y2="132.9" stroke="#555" stroke-width="0.7"/>
<line x1="263.60" y1="234.1" x2="263.60" y2="235.7" stroke="#555" stroke-width="0.7"/>
<line x1="263.60" y1="132.0" x2="263.60" y2="133.6" stroke="#555" stroke-width="0.7"/>
<line x1="270.90" y1="234.1" x2="270.90" y2="235.0" stroke="#555" stroke-width="0.7"/>
<line x1="270.90" y1="132.0" x2="270.90" y2="132.9" stroke="#555" stroke-width="0.7"/>
<line x1="278.20" y1="234.1" x2="278.20" y2="235.7" stroke="#555" stroke-width="0.7"/>
<line x1="278.20" y1="132.0" x2="278.20" y2="133.6" stroke="#555" stroke-width="0.7"/>
<line x1="285.50" y1="234.1" x2="285.50" y2="235.0" stroke="#555" stroke-width="0.7"/>
<line x1="285.50" y1="132.0" x2="285.50" y2="132.9" stroke="#555" stroke-width="0.7"/>
<line x1="292.80" y1="234.1" x2="292.80" y2="235.7" stroke="#555" stroke-width="0.7"/>
<line x1="292.80" y1="132.0" x2="292.80" y2="133.6" stroke="#555" stroke-width="0.7"/>
<line x1="300.10" y1="234.1" x2="300.10" y2="235.0" stroke="#555" stroke-width="0.7"/>
<line x1="300.10" y1="132.0" x2="300.10" y2="132.9" stroke="#555" stroke-width="0.7"/>
<line x1="307.40" y1="234.1" x2="307.40" y2="235.7" stroke="#555" stroke-width="0.7"/>
<line x1="307.40" y1="132.0" x2="307.40" y2="133.6" stroke="#555" stroke-width="0.7"/>
<line x1="314.70" y1="234.1" x2="314.70" y2="235.0" stroke="#555" stroke-width="0.7"/>
<line x1="314.70" y1="132.0" x2="314.70" y2="132.9" stroke="#555" stroke-width="0.7"/>
<line x1="322.00" y1="234.1" x2="322.00" y2="235.7" stroke="#555" stroke-width="0.7"/>
<line x1="322.00" y1="132.0" x2="322.00" y2="133.6" stroke="#555" stroke-width="0.7"/>
<line x1="189.0" y1="132.00" x2="190.6" y2="132.00" stroke="#555" stroke-width="0.7"/>
<line x1="322.0" y1="132.00" x2="323.6" y2="132.00" stroke="#555" stroke-width="0.7"/>
<line x1="189.7" y1="142.21" x2="190.6" y2="142.21" stroke="#555" stroke-width="0.7"/>
<line x1="322.0" y1="142.21" x2="322.9" y2="142.21" stroke="#555" stroke-width="0.7"/>
<line x1="189.0" y1="152.42" x2="190.6" y2="152.42" stroke="#555" stroke-width="0.7"/>
<line x1="322.0" y1="152.42" x2="323.6" y2="152.42" stroke="#555" stroke-width="0.7"/>
<line x1="189.7" y1="162.63" x2="190.6" y2="162.63" stroke="#555" stroke-width="0.7"/>
<line x1="322.0" y1="162.63" x2="322.9" y2="162.63" stroke="#555" stroke-width="0.7"/>
<line x1="189.0" y1="172.84" x2="190.6" y2="172.84" stroke="#555" stroke-width="0.7"/>
<line x1="322.0" y1="172.84" x2="323.6" y2="172.84" stroke="#555" stroke-width="0.7"/>
<line x1="189.7" y1="183.05" x2="190.6" y2="183.05" stroke="#555" stroke-width="0.7"/>
<line x1="322.0" y1="183.05" x2="322.9" y2="183.05" stroke="#555" stroke-width="0.7"/>
<line x1="189.0" y1="193.26" x2="190.6" y2="193.26" stroke="#555" stroke-width="0.7"/>
<line x1="322.0" y1="193.26" x2="323.6" y2="193.26" stroke="#555" stroke-width="0.7"/>
<line x1="189.7" y1="203.47" x2="190.6" y2="203.47" stroke="#555" stroke-width="0.7"/>
<line x1="322.0" y1="203.47" x2="322.9" y2="203.47" stroke="#555" stroke-width="0.7"/>
<line x1="189.0" y1="213.68" x2="190.6" y2="213.68" stroke="#555" stroke-width="0.7"/>
<line x1="322.0" y1="213.68" x2="323.6" y2="213.68" stroke="#555" stroke-width="0.7"/>
<line x1="189.7" y1="223.89" x2="190.6" y2="223.89" stroke="#555" stroke-width="0.7"/>
<line x1="322.0" y1="223.89" x2="322.9" y2="223.89" stroke="#555" stroke-width="0.7"/>
<line x1="189.0" y1="234.10" x2="190.6" y2="234.10" stroke="#555" stroke-width="0.7"/>
<line x1="322.0" y1="234.10" x2="323.6" y2="234.10" stroke="#555" stroke-width="0.7"/>
<text x="190.60" y="241.70" text-anchor="middle" font-size="5.46" fill="#111" stroke="#111" stroke-width="0.2">-2</text>
<text x="205.20" y="241.70" text-anchor="middle" font-size="5.46" fill="#111" stroke="#111" stroke-width="0.2">0</text>
<text x="219.80" y="241.70" text-anchor="middle" font-size="5.46" fill="#111" stroke="#111" stroke-width="0.2">2</text>
<text x="234.40" y="241.70" text-anchor="middle" font-size="5.46" fill="#111" stroke="#111" stroke-width="0.2">4</text>
<text x="249.00" y="241.70" text-anchor="middle" font-size="5.46" fill="#111" stroke="#111" stroke-width="0.2">6</text>
<text x="263.60" y="241.70" text-anchor="middle" font-size="5.46" fill="#111" stroke="#111" stroke-width="0.2">8</text>
<text x="278.20" y="241.70" text-anchor="middle" font-size="5.46" fill="#111" stroke="#111" stroke-width="0.2">10</text>
<text x="292.80" y="241.70" text-anchor="middle" font-size="5.46" fill="#111" stroke="#111" stroke-width="0.2">12</text>
<text x="307.40" y="241.70" text-anchor="middle" font-size="5.46" fill="#111" stroke="#111" stroke-width="0.2">14</text>
<text x="322.00" y="241.70" text-anchor="middle" font-size="5.46" fill="#111" stroke="#111" stroke-width="0.2">16</text>
<text x="188.20" y="133.85" text-anchor="end" font-size="5.35" fill="#111" stroke="#111" stroke-width="0.2">0.07</text>
<text x="324.60" y="133.85" font-size="5.35" fill="#111" stroke="#111" stroke-width="0.2">0.07</text>
<text x="188.20" y="154.27" text-anchor="end" font-size="5.35" fill="#111" stroke="#111" stroke-width="0.2">0.06</text>
<text x="324.60" y="154.27" font-size="5.35" fill="#111" stroke="#111" stroke-width="0.2">0.06</text>
<text x="188.20" y="174.69" text-anchor="end" font-size="5.35" fill="#111" stroke="#111" stroke-width="0.2">0.05</text>
<text x="324.60" y="174.69" font-size="5.35" fill="#111" stroke="#111" stroke-width="0.2">0.05</text>
<text x="188.20" y="195.11" text-anchor="end" font-size="5.35" fill="#111" stroke="#111" stroke-width="0.2">0.04</text>
<text x="324.60" y="195.11" font-size="5.35" fill="#111" stroke="#111" stroke-width="0.2">0.04</text>
<text x="188.20" y="215.53" text-anchor="end" font-size="5.35" fill="#111" stroke="#111" stroke-width="0.2">0.03</text>
<text x="324.60" y="215.53" font-size="5.35" fill="#111" stroke="#111" stroke-width="0.2">0.03</text>
<text x="188.20" y="235.95" text-anchor="end" font-size="5.35" fill="#111" stroke="#111" stroke-width="0.2">0.02</text>
<text x="324.60" y="235.95" font-size="5.35" fill="#111" stroke="#111" stroke-width="0.2">0.02</text>
<text x="219.9" y="249.6" font-size="7.04" fill="#111" stroke="#111" stroke-width="0.2">Incubation Time (Days)</text>
<text transform="translate(172.8,183.2) rotate(-90)" text-anchor="middle" font-size="6.88" fill="#111" stroke="#111" stroke-width="0.2">Weight (gms)</text>
<text x="285.9" y="148.3" font-size="8.87" font-weight="bold" fill="#000" stroke="#000" stroke-width="0.1">A12-G6</text>
<line x1="196.3" y1="138.0" x2="208.5" y2="138.0" stroke="#666" stroke-width="0.7"/>
<rect x="201.35" y="136.95" width="2.10" height="2.10" fill="#1a1a1a"/>
<text x="210.50" y="139.90" font-size="5.51" fill="#111" stroke="#111" stroke-width="0.2">300 mM</text>
<line x1="196.3" y1="144.7" x2="208.5" y2="144.7" stroke="#f44" stroke-width="0.7"/>
<circle cx="202.40" cy="144.70" r="1.20" fill="#e80a0a"/>
<text x="210.50" y="146.60" font-size="5.51" fill="#111" stroke="#111" stroke-width="0.2">400 mM</text>
<line x1="196.3" y1="151.4" x2="208.5" y2="151.4" stroke="#3a86f0" stroke-width="0.7"/>
<path d="M202.40,149.85 L203.95,152.45 L200.85,152.45Z" fill="#0a5ce8"/>
<text x="210.50" y="153.30" font-size="5.51" fill="#111" stroke="#111" stroke-width="0.2">500 mM</text>
<polyline points="205.20,172.90 219.80,177.60 234.40,188.00 270.90,192.10 285.50,197.80 307.40,206.50" fill="none" stroke="#666" stroke-width="0.8"/>
<path d="M205.20,169.80V176.00M204.20,169.80H206.20M204.20,176.00H206.20" stroke="#4a4a4a" stroke-width="0.65" fill="none"/>
<rect x="204.15" y="171.85" width="2.10" height="2.10" fill="#1a1a1a"/>
<path d="M219.80,174.50V180.70M218.80,174.50H220.80M218.80,180.70H220.80" stroke="#4a4a4a" stroke-width="0.65" fill="none"/>
<rect x="218.75" y="176.55" width="2.10" height="2.10" fill="#1a1a1a"/>
<path d="M234.40,184.90V191.10M233.40,184.90H235.40M233.40,191.10H235.40" stroke="#4a4a4a" stroke-width="0.65" fill="none"/>
<rect x="233.35" y="186.95" width="2.10" height="2.10" fill="#1a1a1a"/>
<path d="M270.90,189.00V195.20M269.90,189.00H271.90M269.90,195.20H271.90" stroke="#4a4a4a" stroke-width="0.65" fill="none"/>
<rect x="269.85" y="191.05" width="2.10" height="2.10" fill="#1a1a1a"/>
<path d="M285.50,194.70V200.90M284.50,194.70H286.50M284.50,200.90H286.50" stroke="#4a4a4a" stroke-width="0.65" fill="none"/>
<rect x="284.45" y="196.75" width="2.10" height="2.10" fill="#1a1a1a"/>
<path d="M307.40,203.40V209.60M306.40,203.40H308.40M306.40,209.60H308.40" stroke="#4a4a4a" stroke-width="0.65" fill="none"/>
<rect x="306.35" y="205.45" width="2.10" height="2.10" fill="#1a1a1a"/>
<polyline points="205.20,175.00 219.80,188.00 234.40,193.60 270.90,200.80 285.50,207.00 307.40,215.60" fill="none" stroke="#f44" stroke-width="0.8"/>
<path d="M205.20,171.90V178.10M204.20,171.90H206.20M204.20,178.10H206.20" stroke="#f44" stroke-width="0.65" fill="none"/>
<circle cx="205.20" cy="175.00" r="1.20" fill="#e80a0a"/>
<path d="M219.80,184.90V191.10M218.80,184.90H220.80M218.80,191.10H220.80" stroke="#f44" stroke-width="0.65" fill="none"/>
<circle cx="219.80" cy="188.00" r="1.20" fill="#e80a0a"/>
<path d="M234.40,190.50V196.70M233.40,190.50H235.40M233.40,196.70H235.40" stroke="#f44" stroke-width="0.65" fill="none"/>
<circle cx="234.40" cy="193.60" r="1.20" fill="#e80a0a"/>
<path d="M270.90,197.70V203.90M269.90,197.70H271.90M269.90,203.90H271.90" stroke="#f44" stroke-width="0.65" fill="none"/>
<circle cx="270.90" cy="200.80" r="1.20" fill="#e80a0a"/>
<path d="M285.50,203.90V210.10M284.50,203.90H286.50M284.50,210.10H286.50" stroke="#f44" stroke-width="0.65" fill="none"/>
<circle cx="285.50" cy="207.00" r="1.20" fill="#e80a0a"/>
<path d="M307.40,212.50V218.70M306.40,212.50H308.40M306.40,218.70H308.40" stroke="#f44" stroke-width="0.65" fill="none"/>
<circle cx="307.40" cy="215.60" r="1.20" fill="#e80a0a"/>
<polyline points="205.20,167.20 219.80,173.30 234.40,182.00 270.90,187.40 285.50,193.80 307.40,203.00" fill="none" stroke="#3a86f0" stroke-width="0.8"/>
<path d="M205.20,164.10V170.30M204.20,164.10H206.20M204.20,170.30H206.20" stroke="#3a86f0" stroke-width="0.65" fill="none"/>
<path d="M205.20,165.65 L206.75,168.25 L203.65,168.25Z" fill="#0a5ce8"/>
<path d="M219.80,170.20V176.40M218.80,170.20H220.80M218.80,176.40H220.80" stroke="#3a86f0" stroke-width="0.65" fill="none"/>
<path d="M219.80,171.75 L221.35,174.35 L218.25,174.35Z" fill="#0a5ce8"/>
<path d="M234.40,178.90V185.10M233.40,178.90H235.40M233.40,185.10H235.40" stroke="#3a86f0" stroke-width="0.65" fill="none"/>
<path d="M234.40,180.45 L235.95,183.05 L232.85,183.05Z" fill="#0a5ce8"/>
<path d="M270.90,184.30V190.50M269.90,184.30H271.90M269.90,190.50H271.90" stroke="#3a86f0" stroke-width="0.65" fill="none"/>
<path d="M270.90,185.85 L272.45,188.45 L269.35,188.45Z" fill="#0a5ce8"/>
<path d="M285.50,190.70V196.90M284.50,190.70H286.50M284.50,196.90H286.50" stroke="#3a86f0" stroke-width="0.65" fill="none"/>
<path d="M285.50,192.25 L287.05,194.85 L283.95,194.85Z" fill="#0a5ce8"/>
<path d="M307.40,199.90V206.10M306.40,199.90H308.40M306.40,206.10H308.40" stroke="#3a86f0" stroke-width="0.65" fill="none"/>
<path d="M307.40,201.45 L308.95,204.05 L305.85,204.05Z" fill="#0a5ce8"/>
</g>
<defs>
<pattern id="h0" patternUnits="userSpaceOnUse" width="2.5" height="2.5" patternTransform="rotate(45)"><rect width="2.5" height="2.5" fill="#d2d2d2"/><rect x="0" y="0" width="0.85" height="2.5" fill="#858585"/></pattern>
<pattern id="h1" patternUnits="userSpaceOnUse" width="2.5" height="2.5" patternTransform="rotate(45)"><rect width="2.5" height="2.5" fill="#ffffff"/><rect x="0" y="0" width="0.85" height="2.5" fill="#a6a6a6"/></pattern>
<pattern id="h2" patternUnits="userSpaceOnUse" width="2.5" height="2.5" patternTransform="rotate(45)"><rect width="2.5" height="2.5" fill="#8e8e8e"/><rect x="0" y="0" width="0.85" height="2.5" fill="#5a5a5a"/></pattern>
</defs>
<rect x="53.10" y="374.40" width="15.3" height="131.20" fill="url(#h0)" stroke="#333" stroke-width="0.9"/>
<rect x="71.90" y="380.90" width="15.3" height="124.70" fill="url(#h1)" stroke="#333" stroke-width="0.9"/>
<rect x="90.80" y="386.50" width="15.3" height="119.10" fill="url(#h2)" stroke="#333" stroke-width="0.9"/>
<path d="M60.75,367.7V381.9M58.45,367.7H63.05M58.45,381.9H63.05" stroke="#111" stroke-width="1.2" fill="none"/>
<path d="M79.55,374.4V388.0M77.25,374.4H81.85M77.25,388.0H81.85" stroke="#111" stroke-width="1.2" fill="none"/>
<path d="M98.45,379.4V394.0M96.15,379.4H100.75M96.15,394.0H100.75" stroke="#111" stroke-width="1.2" fill="none"/>
<rect x="123.32" y="360.80" width="15.3" height="144.80" fill="url(#h0)" stroke="#333" stroke-width="0.9"/>
<rect x="142.12" y="371.20" width="15.3" height="134.40" fill="url(#h1)" stroke="#333" stroke-width="0.9"/>
<rect x="161.02" y="390.90" width="15.3" height="114.70" fill="url(#h2)" stroke="#333" stroke-width="0.9"/>
<path d="M130.97,353.3V367.9M128.67,353.3H133.28M128.67,367.9H133.28" stroke="#111" stroke-width="1.2" fill="none"/>
<path d="M149.78,363.1V378.8M147.47,363.1H152.08M147.47,378.8H152.08" stroke="#111" stroke-width="1.2" fill="none"/>
<path d="M168.67,384.2V396.7M166.37,384.2H170.97M166.37,396.7H170.97" stroke="#111" stroke-width="1.2" fill="none"/>
<rect x="193.55" y="396.20" width="15.3" height="109.40" fill="url(#h0)" stroke="#333" stroke-width="0.9"/>
<rect x="212.35" y="400.40" width="15.3" height="105.20" fill="url(#h1)" stroke="#333" stroke-width="0.9"/>
<rect x="231.25" y="411.30" width="15.3" height="94.30" fill="url(#h2)" stroke="#333" stroke-width="0.9"/>
<path d="M201.20,392.3V399.7M198.90,392.3H203.50M198.90,399.7H203.50" stroke="#111" stroke-width="1.2" fill="none"/>
<path d="M220.00,394.6V406.7M217.70,394.6H222.30M217.70,406.7H222.30" stroke="#111" stroke-width="1.2" fill="none"/>
<path d="M238.90,407.8V414.3M236.60,407.8H241.20M236.60,414.3H241.20" stroke="#111" stroke-width="1.2" fill="none"/>
<rect x="263.77" y="402.90" width="15.3" height="102.70" fill="url(#h0)" stroke="#333" stroke-width="0.9"/>
<rect x="282.57" y="406.80" width="15.3" height="98.80" fill="url(#h1)" stroke="#333" stroke-width="0.9"/>
<rect x="301.47" y="417.30" width="15.3" height="88.30" fill="url(#h2)" stroke="#333" stroke-width="0.9"/>
<path d="M271.42,395.8V410.2M269.12,395.8H273.72M269.12,410.2H273.72" stroke="#111" stroke-width="1.2" fill="none"/>
<path d="M290.22,402.1V411.3M287.92,402.1H292.52M287.92,411.3H292.52" stroke="#111" stroke-width="1.2" fill="none"/>
<path d="M309.12,407.9V427.1M306.82,407.9H311.42M306.82,427.1H311.42" stroke="#111" stroke-width="1.2" fill="none"/>
<path d="M57.8,361.3V351.5H102.5V361.3M79.9,351.5V361.3" stroke="#000" stroke-width="1.5" fill="none"/>
<text x="78.10" y="350.00" text-anchor="middle" font-size="19" font-weight="bold" fill="#000">*</text>
<path d="M75.00,330.80L78.05,323.00H80.35L83.40,330.80H81.15L79.20,325.80L77.25,330.80Z" fill="#000"/>
<path d="M130.3,343.3V334.6H169.8V343.3M149.9,334.6V343.3" stroke="#000" stroke-width="1.5" fill="none"/>
<text x="148.60" y="331.45" text-anchor="middle" font-size="19" font-weight="bold" fill="#000">*</text>
<path d="M144.15,310.80L147.20,302.90H149.50L152.55,310.80H150.30L148.35,305.70L146.40,310.80Z" fill="#000"/>
<path d="M200.1,373.7V363.9H240.0V373.7M219.9,363.9V373.7" stroke="#000" stroke-width="1.5" fill="none"/>
<text x="218.35" y="360.80" text-anchor="middle" font-size="19" font-weight="bold" fill="#000">*</text>
<path d="M214.30,339.50L217.35,331.90H219.65L222.70,339.50H220.45L218.50,334.70L216.55,339.50Z" fill="#000"/>
<path d="M270.4,373.7V364.2H309.1V373.7M289.7,364.2V373.7" stroke="#000" stroke-width="1.5" fill="none"/>
<text x="288.60" y="361.10" text-anchor="middle" font-size="19" font-weight="bold" fill="#000">*</text>
<path d="M284.25,341.10L287.30,333.70H289.60L292.65,341.10H290.40L288.45,336.50L286.50,341.10Z" fill="#000"/>
<rect x="44.5" y="273.8" width="280.90" height="231.80" fill="none" stroke="#111" stroke-width="1.3"/>
<line x1="44.5" y1="505.60" x2="48.5" y2="505.60" stroke="#111" stroke-width="1"/>
<line x1="321.4" y1="505.60" x2="325.4" y2="505.60" stroke="#111" stroke-width="1"/>
<line x1="44.5" y1="472.45" x2="46.8" y2="472.45" stroke="#111" stroke-width="1"/>
<line x1="323.09999999999997" y1="472.45" x2="325.4" y2="472.45" stroke="#111" stroke-width="1"/>
<line x1="44.5" y1="439.30" x2="48.5" y2="439.30" stroke="#111" stroke-width="1"/>
<line x1="321.4" y1="439.30" x2="325.4" y2="439.30" stroke="#111" stroke-width="1"/>
<line x1="44.5" y1="406.15" x2="46.8" y2="406.15" stroke="#111" stroke-width="1"/>
<line x1="323.09999999999997" y1="406.15" x2="325.4" y2="406.15" stroke="#111" stroke-width="1"/>
<line x1="44.5" y1="373.00" x2="48.5" y2="373.00" stroke="#111" stroke-width="1"/>
<line x1="321.4" y1="373.00" x2="325.4" y2="373.00" stroke="#111" stroke-width="1"/>
<line x1="44.5" y1="339.85" x2="46.8" y2="339.85" stroke="#111" stroke-width="1"/>
<line x1="323.09999999999997" y1="339.85" x2="325.4" y2="339.85" stroke="#111" stroke-width="1"/>
<line x1="44.5" y1="306.70" x2="48.5" y2="306.70" stroke="#111" stroke-width="1"/>
<line x1="321.4" y1="306.70" x2="325.4" y2="306.70" stroke="#111" stroke-width="1"/>
<line x1="44.5" y1="273.55" x2="46.8" y2="273.55" stroke="#111" stroke-width="1"/>
<line x1="323.09999999999997" y1="273.55" x2="325.4" y2="273.55" stroke="#111" stroke-width="1"/>
<text x="39.3" y="509.50" text-anchor="end" font-size="12" fill="#111" stroke="#111" stroke-width="0.2">0</text>
<text x="329.4" y="509.50" font-size="12" fill="#111" stroke="#111" stroke-width="0.2">0</text>
<text x="39.3" y="443.20" text-anchor="end" font-size="12" fill="#111" stroke="#111" stroke-width="0.2">20</text>
<text x="329.4" y="443.20" font-size="12" fill="#111" stroke="#111" stroke-width="0.2">20</text>
<text x="39.3" y="376.90" text-anchor="end" font-size="12" fill="#111" stroke="#111" stroke-width="0.2">40</text>
<text x="329.4" y="376.90" font-size="12" fill="#111" stroke="#111" stroke-width="0.2">40</text>
<text x="39.3" y="310.60" text-anchor="end" font-size="12" fill="#111" stroke="#111" stroke-width="0.2">60</text>
<text x="329.4" y="310.60" font-size="12" fill="#111" stroke="#111" stroke-width="0.2">60</text>
<rect x="44.5" y="505.6" width="280.90" height="19.80" fill="none" stroke="#111" stroke-width="1.3"/>
<line x1="114.72" y1="505.6" x2="114.72" y2="525.4" stroke="#111" stroke-width="1.1"/>
<line x1="184.95" y1="505.6" x2="184.95" y2="525.4" stroke="#111" stroke-width="1.1"/>
<line x1="255.17" y1="505.6" x2="255.17" y2="525.4" stroke="#111" stroke-width="1.1"/>
<text x="79.61" y="519.4" text-anchor="middle" font-size="11.8" fill="#111" stroke="#111" stroke-width="0.2">A4G6</text>
<text x="149.84" y="519.4" text-anchor="middle" font-size="11.8" fill="#111" stroke="#111" stroke-width="0.2">A6G6</text>
<text x="220.06" y="519.4" text-anchor="middle" font-size="11.8" fill="#111" stroke="#111" stroke-width="0.2">A8G6</text>
<text x="290.29" y="519.4" text-anchor="middle" font-size="11.8" fill="#111" stroke="#111" stroke-width="0.2">A12G6</text>
<rect x="52.4" y="278.4" width="25.2" height="11.70" fill="url(#h0)" stroke="#444" stroke-width="0.9"/>
<text x="81.2" y="288.25" font-size="11.1" fill="#111" stroke="#111" stroke-width="0.2">300 mM</text>
<rect x="52.4" y="292.6" width="25.2" height="11.60" fill="url(#h1)" stroke="#444" stroke-width="0.9"/>
<text x="81.2" y="302.40" font-size="11.1" fill="#111" stroke="#111" stroke-width="0.2">400 mM</text>
<rect x="52.4" y="306.1" width="25.2" height="12.40" fill="url(#h2)" stroke="#444" stroke-width="0.9"/>
<text x="81.2" y="316.30" font-size="11.1" fill="#111" stroke="#111" stroke-width="0.2">500 mM</text>
<text transform="translate(17.4,399.10) rotate(-90)" text-anchor="middle" font-size="14" textLength="195" lengthAdjust="spacingAndGlyphs" fill="#111" stroke="#111" stroke-width="0.25">Degradation Percentage (%)</text>
<text x="170.1" y="263.4" text-anchor="middle" style="font-family:&quot;Liberation Serif&quot;,serif" font-weight="bold" font-size="9.4" fill="#222" stroke="#222" stroke-width="0.15">(a)</text>
<text x="170.2" y="546.2" text-anchor="middle" style="font-family:&quot;Liberation Serif&quot;,serif" font-weight="bold" font-size="9.6" fill="#222" stroke="#222" stroke-width="0.15">(b)</text>
</svg></body></html>
